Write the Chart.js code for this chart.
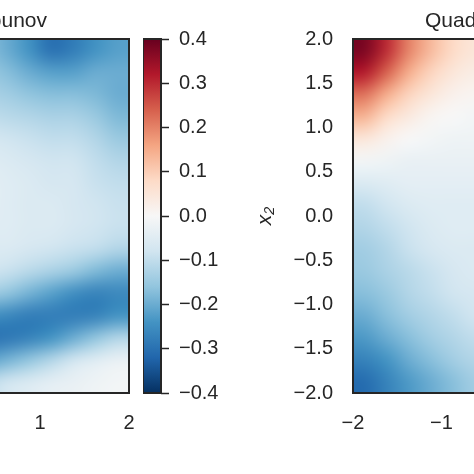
<!DOCTYPE html>
<html lang="en">
<head>
<meta charset="UTF-8">
<title>Lyapunov vs Quadratic</title>
<script src="https://cdn.jsdelivr.net/npm/chart.js"></script>
<style>
  html, body { margin: 0; padding: 0; background: #fff; overflow: hidden; width: 474px; height: 474px; }
  .box { position: absolute; top: 0; }
  #leftBox { left: -227px; width: 370px; height: 474px; }
  #cbBox { left: 143px; width: 80px; height: 474px; }
  #rightBox { left: 253px; width: 456px; height: 474px; }
</style>
</head>
<body>
<div class="box" id="leftBox"><canvas id="leftChart"></canvas></div>
<div class="box" id="cbBox"><canvas id="cbChart"></canvas></div>
<div class="box" id="rightBox"><canvas id="rightChart"></canvas></div>
<script>
// cell grids: rows top (x2 = 2) to bottom, step 0.25
const lyapXStart = -0.75;   // left edge of first column
const lyapYTop = 2;
const lyapValues = [
  [-0.22,-0.22,-0.2,-0.18,-0.17,-0.2,-0.24,-0.3,-0.28,-0.24,-0.22],
  [-0.2,-0.2,-0.18,-0.16,-0.15,-0.17,-0.2,-0.22,-0.22,-0.2,-0.2],
  [-0.17,-0.17,-0.15,-0.13,-0.13,-0.14,-0.16,-0.17,-0.17,-0.18,-0.2],
  [-0.12,-0.12,-0.11,-0.1,-0.1,-0.11,-0.12,-0.13,-0.13,-0.15,-0.18],
  [-0.07,-0.07,-0.07,-0.07,-0.07,-0.08,-0.09,-0.1,-0.1,-0.12,-0.15],
  [-0.04,-0.04,-0.04,-0.04,-0.05,-0.06,-0.07,-0.08,-0.08,-0.1,-0.12],
  [-0.02,-0.02,-0.02,-0.03,-0.04,-0.05,-0.06,-0.07,-0.07,-0.09,-0.1],
  [-0.01,-0.01,-0.02,-0.03,-0.04,-0.05,-0.06,-0.06,-0.07,-0.08,-0.09],
  [-0.02,-0.02,-0.03,-0.04,-0.05,-0.05,-0.06,-0.06,-0.07,-0.08,-0.09],
  [-0.04,-0.04,-0.05,-0.05,-0.06,-0.06,-0.07,-0.08,-0.09,-0.1,-0.12],
  [-0.07,-0.07,-0.07,-0.08,-0.08,-0.09,-0.11,-0.13,-0.15,-0.18,-0.2],
  [-0.12,-0.12,-0.12,-0.13,-0.14,-0.16,-0.19,-0.22,-0.25,-0.27,-0.26],
  [-0.2,-0.2,-0.21,-0.22,-0.24,-0.26,-0.28,-0.28,-0.28,-0.27,-0.24],
  [-0.28,-0.28,-0.29,-0.3,-0.3,-0.29,-0.27,-0.24,-0.2,-0.16,-0.12],
  [-0.27,-0.26,-0.25,-0.24,-0.22,-0.19,-0.16,-0.12,-0.08,-0.05,-0.03],
  [-0.2,-0.18,-0.16,-0.14,-0.11,-0.08,-0.06,-0.04,-0.03,-0.02,-0.01]
];
const quadXStart = -2;
const quadYTop = 2;
const quadValues = [
  [0.38,0.3,0.2,0.13,0.08,0.05],
  [0.32,0.24,0.15,0.09,0.05,0.03],
  [0.22,0.15,0.09,0.05,0.02,0.01],
  [0.14,0.08,0.04,0.01,0,-0.01],
  [0.05,0.02,0,-0.01,-0.02,-0.02],
  [-0.01,-0.02,-0.03,-0.03,-0.03,-0.03],
  [-0.06,-0.05,-0.04,-0.04,-0.04,-0.04],
  [-0.1,-0.08,-0.06,-0.05,-0.05,-0.05],
  [-0.12,-0.1,-0.08,-0.06,-0.05,-0.05],
  [-0.14,-0.12,-0.09,-0.07,-0.06,-0.06],
  [-0.15,-0.13,-0.11,-0.09,-0.07,-0.06],
  [-0.17,-0.15,-0.12,-0.1,-0.08,-0.07],
  [-0.2,-0.17,-0.14,-0.12,-0.1,-0.08],
  [-0.23,-0.2,-0.17,-0.14,-0.12,-0.1],
  [-0.27,-0.24,-0.2,-0.17,-0.14,-0.12],
  [-0.31,-0.27,-0.23,-0.2,-0.17,-0.14]
];
const cellStep = 0.25;
const axisTicks = [-2, -1, 0, 1, 2];
const yTicks = [-2, -1.5, -1, -0.5, 0, 0.5, 1, 1.5, 2];
const cbTicks = [-0.4, -0.3, -0.2, -0.1, 0, 0.1, 0.2, 0.3, 0.4];
const vmin = -0.4, vmax = 0.4;

const stops = ['#053061','#2166ac','#4393c3','#92c5de','#d1e5f0','#f7f7f7','#fddbc7','#f4a582','#d6604d','#b2182b','#67001f'];
function hex(h) { return [1,3,5].map(i => parseInt(h.substr(i,2),16)); }
function colorFor(v) {
  let t = (v - vmin) / (vmax - vmin);
  t = Math.max(0, Math.min(1, t)) * (stops.length - 1);
  const i = Math.min(Math.floor(t), stops.length - 2), f = t - i;
  const a = hex(stops[i]), b = hex(stops[i+1]);
  return 'rgb(' + a.map((c,k) => Math.round(c + (b[k]-c)*f)).join(',') + ')';
}

const FONT = "'Liberation Sans', Arial, sans-serif";
const TXT = '#262626';
Chart.defaults.font.family = FONT;
Chart.defaults.font.size = 20;
Chart.defaults.color = TXT;

// draws a grid onto a tiny canvas then stretches it over the scale rectangle
function heatPlugin(values, xStart, yTop, title, titleX, align) {
  return {
    id: 'heat',
    beforeDatasetsDraw(chart) {
      const { ctx, chartArea, scales } = chart;
      const rows = values.length, cols = values[0].length;
      const off = document.createElement('canvas');
      off.width = cols; off.height = rows;
      const oc = off.getContext('2d');
      values.forEach((row, r) => row.forEach((v, c) => { oc.fillStyle = colorFor(v); oc.fillRect(c, r, 1, 1); }));
      const x0 = scales.x.getPixelForValue(xStart);
      const x1 = scales.x.getPixelForValue(xStart + cols * cellStep);
      const y0 = scales.y.getPixelForValue(yTop);
      const y1 = scales.y.getPixelForValue(yTop - rows * cellStep);
      ctx.save();
      ctx.beginPath();
      ctx.rect(chartArea.left, chartArea.top, chartArea.right - chartArea.left, chartArea.bottom - chartArea.top);
      ctx.clip();
      ctx.imageSmoothingEnabled = true;
      ctx.imageSmoothingQuality = 'high';
      ctx.drawImage(off, x0, y0, x1 - x0, y1 - y0);
      ctx.restore();
    },
    afterDraw(chart) {
      const { ctx, chartArea } = chart;
      ctx.save();
      ctx.strokeStyle = '#262626';
      ctx.lineWidth = 2;
      ctx.strokeRect(chartArea.left, chartArea.top, chartArea.right - chartArea.left, chartArea.bottom - chartArea.top);
      ctx.font = '21px ' + FONT;
      ctx.fillStyle = TXT;
      ctx.textAlign = align;
      ctx.textBaseline = 'alphabetic';
      ctx.fillText(title, titleX(chartArea), chartArea.top - 12);
      ctx.restore();
    }
  };
}

function heatOptions(showY, padRight) {
  return {
    responsive: false, animation: false,
    layout: { padding: { top: 39, right: padRight, left: 0 } },
    plugins: { legend: { display: false }, tooltip: { enabled: false } },
    scales: {
      x: {
        type: 'linear', min: -2, max: 2,
        afterBuildTicks: s => { s.ticks = axisTicks.map(v => ({ value: v })); },
        afterFit: s => { s.height = 81; s.paddingLeft = 0; s.paddingRight = 0; },
        grid: { display: false }, border: { display: false },
        ticks: { padding: 10, callback: v => String(v).replace('-', '\u2212') }
      },
      y: {
        type: 'linear', min: -2, max: 2, display: showY,
        afterBuildTicks: s => { s.ticks = yTicks.map(v => ({ value: v })); },
        afterFit: s => { s.width = showY ? 100 : 0; s.paddingTop = 0; s.paddingBottom = 0; },
        grid: { display: false }, border: { display: false },
        title: { display: showY, text: 'x\u2082', font: { size: 21, style: 'italic' }, padding: 0 },
        ticks: { padding: 12, callback: v => v.toFixed(1).replace('-', '\u2212') }
      }
    }
  };
}

function setSize(id, box) {
  const c = document.getElementById(id), b = document.getElementById(box);
  c.width = b.clientWidth; c.height = b.clientHeight;
  c.style.width = b.clientWidth + 'px'; c.style.height = b.clientHeight + 'px';
  return c;
}

new Chart(setSize('leftChart', 'leftBox'), {
  type: 'scatter',
  data: { datasets: [{ data: [] }] },
  options: heatOptions(false, 14),
  plugins: [heatPlugin(lyapValues, lyapXStart, lyapYTop, 'Lyapunov', a => a.right - 82, 'right')]
});

new Chart(setSize('rightChart', 'rightBox'), {
  type: 'scatter',
  data: { datasets: [{ data: [] }] },
  options: heatOptions(true, 2),
  plugins: [heatPlugin(quadValues, quadXStart, quadYTop, 'Quadratic', a => a.left + 72, 'left')]
});

// colorbar
new Chart(setSize('cbChart', 'cbBox'), {
  type: 'scatter',
  data: { datasets: [{ data: [] }] },
  options: {
    responsive: false, animation: false,
    layout: { padding: { top: 39, left: 0, right: 0 } },
    plugins: { legend: { display: false }, tooltip: { enabled: false } },
    scales: {
      x: { type: 'linear', display: true, min: 0, max: 1,
           afterFit: s => { s.height = 81; }, ticks: { display: false }, grid: { display: false }, border: { display: false } },
      y: {
        type: 'linear', position: 'right', min: vmin, max: vmax,
        afterBuildTicks: s => { s.ticks = cbTicks.map(v => ({ value: v })); },
        afterFit: s => { s.width = 62; s.paddingTop = 0; s.paddingBottom = 0; },
        grid: { drawOnChartArea: false, tickLength: 8, tickColor: '#262626', tickWidth: 1.5 },
        border: { display: false },
        ticks: { padding: 10, callback: v => v.toFixed(1).replace('-', '\u2212') }
      }
    }
  },
  plugins: [{
    id: 'cb',
    beforeDatasetsDraw(chart) {
      const { ctx, chartArea, scales } = chart;
      const y0 = scales.y.getPixelForValue(vmax), y1 = scales.y.getPixelForValue(vmin);
      const g = ctx.createLinearGradient(0, y1, 0, y0);
      stops.forEach((s, i) => g.addColorStop(i / (stops.length - 1), s));
      ctx.save();
      ctx.fillStyle = g;
      ctx.fillRect(chartArea.left, y0, chartArea.right - chartArea.left, y1 - y0);
      ctx.strokeStyle = '#262626';
      ctx.lineWidth = 2;
      ctx.strokeRect(chartArea.left, y0, chartArea.right - chartArea.left, y1 - y0);
      ctx.restore();
    }
  }]
});
</script>
</body>
</html>
